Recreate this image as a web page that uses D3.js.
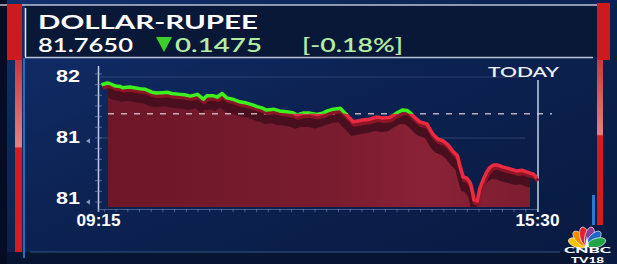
<!DOCTYPE html>
<html>
<head>
<meta charset="utf-8">
<script src="https://cdn.jsdelivr.net/npm/d3@7"></script>
<style>
  html, body { margin: 0; padding: 0; background: #081634; overflow: hidden; }
  svg { display: block; font-family: Lato, "Open Sans", sans-serif; }
</style>
</head>
<body>
<div id="chart"></div>
<script>
const title = "DOLLAR-RUPEE";
const lastPrice = "81.7650";
const change = "0.1475";
const changePct = "[-0.18%]";
const prevClose = 81.9125;

const times = ["09:18","09:23","09:25","09:30","09:34","09:36","09:42","09:51","09:55","10:01",
  "10:05","10:10","10:14","10:18","10:25","10:29","10:34","10:40","10:45","10:48",
  "10:53","10:57","11:01","11:05","11:10","11:16","11:22","11:27","11:31","11:35",
  "11:39","11:45","11:50","11:56","12:01","12:05","12:10","12:16","12:22","12:27",
  "12:31","12:36","12:42","12:46","12:50","12:53","12:57","13:01","13:07","13:13",
  "13:18","13:24","13:30","13:35","13:39","13:42","13:46","13:50","13:56","14:01",
  "14:05","14:10","14:14","14:18","14:22","14:24","14:27","14:30","14:33","14:35",
  "14:36","14:39","14:41","14:44","14:47","14:50","14:53","14:56","15:01","15:07",
  "15:13","15:17","15:21","15:27","15:30"];
const rates = [81.979,81.983,81.982,81.976,81.975,81.972,81.974,81.970,81.969,81.962,
  81.960,81.961,81.962,81.959,81.957,81.956,81.953,81.957,81.946,81.954,
  81.954,81.951,81.959,81.949,81.946,81.940,81.937,81.933,81.929,81.926,
  81.921,81.923,81.919,81.917,81.915,81.910,81.914,81.914,81.911,81.914,
  81.919,81.923,81.925,81.914,81.903,81.894,81.896,81.898,81.900,81.905,
  81.903,81.904,81.914,81.921,81.920,81.914,81.903,81.894,81.889,81.866,
  81.855,81.850,81.841,81.827,81.816,81.793,81.767,81.765,81.754,81.731,
  81.715,81.712,81.740,81.761,81.779,81.790,81.795,81.795,81.790,81.786,
  81.781,81.783,81.779,81.774,81.765];

const yTicks = [81.99, 81.85, 81.71];
const yTickLabels = ["82", "81", "81"];
const xTickTimes = ["09:15", "15:30"];

const W = 617, H = 264;
const parse = d3.timeParse("%H:%M");
const data = times.map((t, i) => ({ t: parse(t), v: rates[i] }));

const x = d3.scaleTime().domain([parse(xTickTimes[0]), parse(xTickTimes[1])]).range([98, 537]);
const y = d3.scaleLinear().domain([81.71, 81.99]).range([202, 80]);
const yRef = y(prevClose);
const bottom = 207;

const svg = d3.select("#chart").append("svg").attr("width", W).attr("height", H);
const defs = svg.append("defs");

const bg = defs.append("linearGradient").attr("id", "bg").attr("x1", 0).attr("y1", 0).attr("x2", 1).attr("y2", 1);
bg.append("stop").attr("offset", 0).attr("stop-color", "#12306c");
bg.append("stop").attr("offset", 0.45).attr("stop-color", "#0c2252");
bg.append("stop").attr("offset", 1).attr("stop-color", "#091a40");

const fillG = defs.append("linearGradient").attr("id", "fillG").attr("x1", 0).attr("y1", 0).attr("x2", 1).attr("y2", 0);
fillG.append("stop").attr("offset", 0).attr("stop-color", "#6c1729");
fillG.append("stop").attr("offset", 0.55).attr("stop-color", "#7a1c2f");
fillG.append("stop").attr("offset", 0.75).attr("stop-color", "#8a2236");
fillG.append("stop").attr("offset", 1).attr("stop-color", "#7c1d31");

const barG = defs.append("linearGradient").attr("id", "barG").attr("x1", 0).attr("y1", 0).attr("x2", 0).attr("y2", 1);
barG.append("stop").attr("offset", 0).attr("stop-color", "#c83a3c");
barG.append("stop").attr("offset", 0.45).attr("stop-color", "#e78080");
barG.append("stop").attr("offset", 0.46).attr("stop-color", "#d41c20");
barG.append("stop").attr("offset", 1).attr("stop-color", "#d41c20");

defs.append("clipPath").attr("id", "fillClip").append("rect")
  .attr("x", 108).attr("y", 60).attr("width", 530 - 108).attr("height", bottom - 60);
defs.append("clipPath").attr("id", "above").append("rect")
  .attr("x", 0).attr("y", 0).attr("width", W).attr("height", yRef);
defs.append("clipPath").attr("id", "below").append("rect")
  .attr("x", 0).attr("y", yRef).attr("width", W).attr("height", H - yRef);

// background
svg.append("rect").attr("width", W).attr("height", H).attr("fill", "url(#bg)");
svg.append("rect").attr("x", 0).attr("y", 0).attr("width", 7).attr("height", H).attr("fill", "#050c24");
svg.append("rect").attr("x", 25).attr("y", 5).attr("width", 572).attr("height", 52).attr("fill", "#0a1838");
svg.append("rect").attr("x", 7).attr("y", 252).attr("width", 590).attr("height", 12).attr("fill", "#071432");
svg.append("line").attr("x1", 30).attr("x2", 560).attr("y1", 252).attr("y2", 252)
  .attr("stroke", "#3a5a8c").attr("stroke-width", 1.5).attr("opacity", 0.6);

// header lines
svg.append("line").attr("x1", 0).attr("x2", 597).attr("y1", 5).attr("y2", 5)
  .attr("stroke", "#b9c3d6").attr("stroke-width", 1.5);
svg.append("line").attr("x1", 25).attr("x2", 593).attr("y1", 57.5).attr("y2", 57.5)
  .attr("stroke", "#b9c3d6").attr("stroke-width", 1.5);
svg.append("line").attr("x1", 25.5).attr("x2", 25.5).attr("y1", 8).attr("y2", 57)
  .attr("stroke", "#e8ecf4").attr("stroke-width", 1.5);

// side bars
svg.append("rect").attr("x", 23).attr("y", 58).attr("width", 2).attr("height", 200).attr("fill", "#2a6cc0");
svg.append("rect").attr("x", 7).attr("y", 4).attr("width", 15).attr("height", 56).attr("fill", "#cc1a1e");
svg.append("rect").attr("x", 15).attr("y", 60).attr("width", 7).attr("height", 192).attr("fill", "url(#barG)");
svg.append("rect").attr("x", 592).attr("y", 195).attr("width", 3).attr("height", 30).attr("fill", "#2a7ad0");
svg.append("rect").attr("x", 597).attr("y", 3).attr("width", 13).attr("height", 57).attr("fill", "#cc1a1e");
svg.append("rect").attr("x", 597).attr("y", 60).attr("width", 6).attr("height", 165).attr("fill", "url(#barG)");

// header text
svg.append("text").attr("x", 38).attr("y", 28.5).text(title)
  .attr("font-size", 18.5).attr("font-weight", 700).attr("fill", "#ffffff")
  .attr("textLength", 220).attr("lengthAdjust", "spacingAndGlyphs");
svg.append("text").attr("x", 38).attr("y", 51.5).text(lastPrice)
  .attr("font-size", 20).attr("font-weight", 600).attr("fill", "#ffffff")
  .attr("textLength", 95).attr("lengthAdjust", "spacingAndGlyphs");
svg.append("path").attr("d", "M156,37 L172,37 L164,52 Z").attr("fill", "#3fcf2a");
svg.append("text").attr("x", 175).attr("y", 51.5).text(change)
  .attr("font-size", 20).attr("font-weight", 600).attr("fill", "#b4eca6")
  .attr("textLength", 87).attr("lengthAdjust", "spacingAndGlyphs");
svg.append("text").attr("x", 302).attr("y", 51.5).text(changePct)
  .attr("font-size", 20).attr("font-weight", 600).attr("fill", "#b4eca6")
  .attr("textLength", 101).attr("lengthAdjust", "spacingAndGlyphs");

// gridlines
svg.selectAll(".grid").data(yTicks.slice(0, 2)).enter().append("line")
  .attr("x1", 100).attr("x2", 525).attr("y1", d => y(d) - 3).attr("y2", d => y(d) - 3)
  .attr("stroke", "#7d90bd").attr("stroke-width", 1).attr("opacity", 0.3);

// area fills
const darkArea = d3.area().x(d => x(d.t)).y0(bottom).y1(d => y(d.v));
const lightArea = d3.area().x(d => x(d.t) - 2).y0(bottom).y1(d => y(d.v) + 14);
const fills = svg.append("g").attr("clip-path", "url(#fillClip)");
fills.append("path").datum(data).attr("d", darkArea).attr("fill", "#4a0f1f");
fills.append("path").datum(data).attr("d", lightArea).attr("fill", "url(#fillG)");

// y axis
const yAxis = svg.append("g").attr("transform", "translate(98,0)")
  .call(d3.axisLeft(y).tickValues(yTicks).tickFormat((d, i) => yTickLabels[i]).tickSize(0).tickPadding(18));
yAxis.select(".domain").remove();
yAxis.selectAll("text").attr("fill", "#ffffff").attr("font-size", 17).attr("font-weight", 700).attr("dy", "0.1em")
  .attr("textLength", 24).attr("lengthAdjust", "spacingAndGlyphs");
svg.append("line").attr("x1", 98.5).attr("x2", 98.5).attr("y1", 66).attr("y2", 212)
  .attr("stroke", "#c4cce0").attr("stroke-width", 1.5);
svg.selectAll(".minor").data(d3.range(0, 13)).enter().append("line")
  .attr("x1", 95).attr("x2", 102)
  .attr("y1", d => y(81.71 + d * 0.0245)).attr("y2", d => y(81.71 + d * 0.0245))
  .attr("stroke", "#8e9cc0").attr("stroke-width", 1).attr("opacity", 0.6);
svg.selectAll(".arrow").data(yTicks.slice(1)).enter().append("path")
  .attr("d", d => `M86,${y(d)} L90,${y(d) - 2.5} L90,${y(d) + 2.5} Z`)
  .attr("fill", "#8e9cc0");

// x axis
const xAxisMinor = svg.append("g").attr("transform", `translate(0,${bottom + 2})`)
  .call(d3.axisBottom(x).ticks(d3.timeMinute.every(10)).tickSize(3).tickFormat(""));
xAxisMinor.select(".domain").attr("stroke", "#6d84b8").attr("opacity", 0.6);
xAxisMinor.selectAll(".tick line").attr("stroke", "#8fa0c8").attr("opacity", 0.5);
const xAxis = svg.append("g").attr("transform", `translate(0,${bottom + 2})`)
  .call(d3.axisBottom(x).tickValues(xTickTimes.map(parse)).tickFormat(d3.timeFormat("%H:%M")).tickSize(0).tickPadding(5));
xAxis.select(".domain").remove();
xAxis.selectAll("text").attr("fill", "#ffffff").attr("font-size", 17).attr("font-weight", 600)
  .attr("textLength", 44).attr("lengthAdjust", "spacingAndGlyphs");

// previous close reference
svg.append("line").attr("x1", 108).attr("x2", 552).attr("y1", yRef).attr("y2", yRef)
  .attr("stroke", "#d9c8d2").attr("stroke-width", 1.5).attr("stroke-dasharray", "6,7").attr("opacity", 0.85);

// today marker
svg.append("line").attr("x1", x(parse("15:30")) + 1).attr("x2", x(parse("15:30")) + 1).attr("y1", 80).attr("y2", 212)
  .attr("stroke", "#c9d1e3").attr("stroke-width", 1.5);
svg.append("text").attr("x", 488).attr("y", 77).text("TODAY")
  .attr("font-size", 13).attr("font-weight", 600).attr("fill", "#eef1f7")
  .attr("textLength", 71).attr("lengthAdjust", "spacingAndGlyphs");

// price line
const line = d3.line().x(d => x(d.t)).y(d => y(d.v));
svg.append("path").datum(data).attr("d", line).attr("transform", "translate(1,3)")
  .attr("fill", "none").attr("stroke", "#8c1628").attr("stroke-width", 4).attr("stroke-linejoin", "round");
svg.append("path").datum(data).attr("d", line).attr("clip-path", "url(#below)")
  .attr("fill", "none").attr("stroke", "#ea2a40").attr("stroke-width", 3.5).attr("stroke-linejoin", "round");
svg.append("path").datum(data).attr("d", line).attr("clip-path", "url(#above)")
  .attr("fill", "none").attr("stroke", "#3cf01e").attr("stroke-width", 3.5).attr("stroke-linejoin", "round");

// logo
const featherColors = ["#f5c400", "#f08a00", "#e02030", "#8a3c96", "#2064c4", "#22a548"];
const logo = svg.append("g").attr("transform", "translate(587,246)");
logo.selectAll("ellipse").data(featherColors).enter().append("ellipse")
  .attr("cx", 0).attr("cy", -10).attr("rx", 4.6).attr("ry", 9.5)
  .attr("transform", (d, i) => `rotate(${-72 + i * 28.8})`)
  .attr("fill", d => d).attr("stroke", "#ffffff").attr("stroke-width", 0.6);
logo.append("path").attr("d", "M-2,1 L0,-10 L2,1 Z").attr("fill", "#ffffff");
svg.append("text").attr("x", 564).attr("y", 253).text("CNBC")
  .attr("font-size", 7.5).attr("font-weight", 900).attr("fill", "#ffffff")
  .attr("textLength", 47).attr("lengthAdjust", "spacingAndGlyphs");
svg.append("text").attr("x", 571).attr("y", 262.5).text("TV18")
  .attr("font-size", 7.5).attr("font-weight", 900).attr("fill", "#ffffff")
  .attr("textLength", 33).attr("lengthAdjust", "spacingAndGlyphs");
</script>
</body>
</html>
